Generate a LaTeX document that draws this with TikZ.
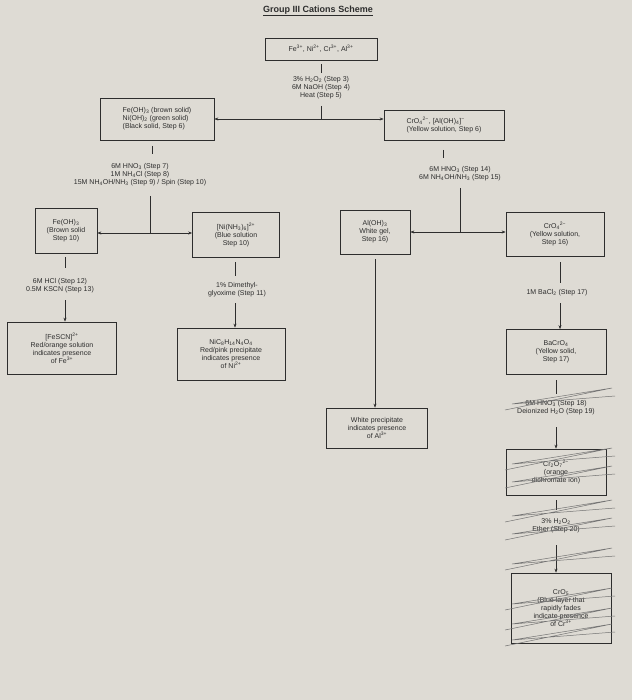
\documentclass[tikz,border=0pt]{standalone}
\usepackage{fontspec}
\setmainfont{Liberation Sans}
\usetikzlibrary{arrows.meta}
\definecolor{paper}{RGB}{222,219,212}
\definecolor{ink}{RGB}{45,45,45}
\begin{document}
\begin{tikzpicture}[x=1pt,y=-1pt,
  box/.style={draw=ink,line width=0.7pt,align=center,font=\fontsize{7}{8}\selectfont,text=ink,inner sep=2pt},
  lbl/.style={align=center,font=\fontsize{7}{8}\selectfont,text=ink,inner sep=0pt},
  ln/.style={draw=ink,line width=0.6pt},
  arr/.style={draw=ink,line width=0.6pt,-{Stealth[length=4pt]}},
  scrib/.style={draw=black!55,line width=0.5pt}]
\fill[paper] (0,0) rectangle (632,700);
\useasboundingbox (0,0) rectangle (632,700);
\node[lbl,font=\bfseries\fontsize{9}{10}\selectfont] (title) at (318,11) {\underline{Group III Cations Scheme}};
% top
\node[box,minimum width=112,minimum height=22] (top) at (321,49) {Fe\textsuperscript{3+}, Ni\textsuperscript{2+}, Cr\textsuperscript{3+}, Al\textsuperscript{3+}};
\draw[ln] (321,64) -- (321,73);
\node[lbl] (s3) at (321,88) {3\% H\textsubscript{2}O\textsubscript{2} (Step 3)\\6M NaOH (Step 4)\\Heat (Step 5)};
\coordinate (j1) at (321,119);
\draw[ln] (321,106) -- (j1);
\node[box,minimum width=114,minimum height=42,align=left] (fe1) at (157,119) {Fe(OH)\textsubscript{3} (brown solid)\\Ni(OH)\textsubscript{2} (green solid)\\(Black solid, Step 6)};
\node[box,minimum width=120,minimum height=30,align=left] (cr1) at (444,125) {CrO\textsubscript{4}\textsuperscript{2−}, [Al(OH)\textsubscript{4}]\textsuperscript{−}\\(Yellow solution, Step 6)};
\draw[arr] (j1) -- (j1 -| fe1.east);
\draw[arr] (j1) -- (j1 -| cr1.west);
% left branch
\draw[ln] (152,146) -- (152,154);
\node[lbl] (s7) at (140,175) {6M HNO\textsubscript{3} (Step 7)\\1M NH\textsubscript{4}Cl (Step 8)\\15M NH\textsubscript{4}OH/NH\textsubscript{3} (Step 9) / Spin (Step 10)};
\coordinate (j2) at (150,233);
\draw[ln] (150,196) -- (j2);
\node[box,minimum width=62,minimum height=45] (feoh) at (66,231) {Fe(OH)\textsubscript{3}\\(Brown solid\\Step 10)};
\node[box,minimum width=87,minimum height=45] (ni) at (236,235) {[Ni(NH\textsubscript{3})\textsubscript{6}]\textsuperscript{2+}\\(Blue solution\\Step 10)};
\draw[arr] (j2) -- (j2 -| feoh.east);
\draw[arr] (j2) -- (j2 -| ni.west);
\draw[ln] (65,257) -- (65,268);
\node[lbl] (s12) at (60,286) {6M HCl (Step 12)\\0.5M KSCN (Step 13)};
\coordinate (fa) at (65,300);
\node[box,minimum width=109,minimum height=52] (fescn) at (62,348) {[FeSCN]\textsuperscript{2+}\\Red/orange solution\\indicates presence\\of Fe\textsuperscript{3+}};
\draw[arr] (fa) -- (fa |- fescn.north);
\draw[ln] (235,262) -- (235,276);
\node[lbl] (s11) at (237,290) {1\% Dimethyl-\\glyoxime (Step 11)};
\coordinate (na) at (235,303);
\node[box,minimum width=108,minimum height=52] (nidmg) at (231,354) {NiC\textsubscript{8}H\textsubscript{14}N\textsubscript{4}O\textsubscript{4}\\Red/pink precipitate\\indicates presence\\of Ni\textsuperscript{2+}};
\draw[arr] (na) -- (na |- nidmg.north);
% right branch
\draw[ln] (443,150) -- (443,158);
\node[lbl] (s14) at (460,174) {6M HNO\textsubscript{3} (Step 14)\\6M NH\textsubscript{4}OH/NH\textsubscript{3} (Step 15)};
\coordinate (j3) at (460,232);
\draw[ln] (460,188) -- (j3);
\node[box,minimum width=70,minimum height=44] (al) at (375,232) {Al(OH)\textsubscript{3}\\White gel,\\Step 16)};
\node[box,minimum width=98,minimum height=44] (cro4) at (555,234) {CrO\textsubscript{4}\textsuperscript{2−}\\(Yellow solution,\\Step 16)};
\draw[arr] (j3) -- (j3 -| al.east);
\draw[arr] (j3) -- (j3 -| cro4.west);
\node[box,minimum width=101,minimum height=40] (alw) at (377,428) {White precipitate\\indicates presence\\of Al\textsuperscript{3+}};
\coordinate (alb) at (375,259);
\draw[arr] (alb) -- (alb |- alw.north);
\draw[ln] (560,262) -- (560,283);
\node[lbl] (s17) at (557,293) {1M BaCl\textsubscript{2} (Step 17)};
\node[box,minimum width=100,minimum height=45] (ba) at (556,352) {BaCrO\textsubscript{4}\\(Yellow solid,\\Step 17)};
\coordinate (ba0) at (560,303);
\draw[arr] (ba0) -- (ba0 |- ba.north);
\draw[ln] (556,380) -- (556,394);
\node[lbl] (s18) at (556,408) {6M HNO\textsubscript{3} (Step 18)\\Deionized H\textsubscript{2}O (Step 19)};
\node[box,minimum width=100,minimum height=46] (dich) at (556,472) {Cr\textsubscript{2}O\textsubscript{7}\textsuperscript{2−}\\(orange\\dichromate ion)};
\coordinate (d0) at (556,427);
\draw[arr] (d0) -- (d0 |- dich.north);
\draw[ln] (556,500) -- (556,510);
\node[lbl] (s20) at (556,526) {3\% H\textsubscript{2}O\textsubscript{2}\\Ether (Step 20)};
\node[box,minimum width=100,minimum height=70] (cro5) at (561,608) {CrO\textsubscript{5}\\(Blue layer that\\rapidly fades\\indicate presence\\of Cr\textsuperscript{3+}};
\coordinate (c0) at (556,545);
\draw[arr] (c0) -- (c0 |- cro5.north);
% scribbles
\foreach \y in {400,460,478,512,530,560,600,620,636}{
  \draw[scrib] (505,\y+10) -- (612,\y-12) -- (512,\y+4) -- (615,\y-4);}
\end{tikzpicture}
\end{document}
